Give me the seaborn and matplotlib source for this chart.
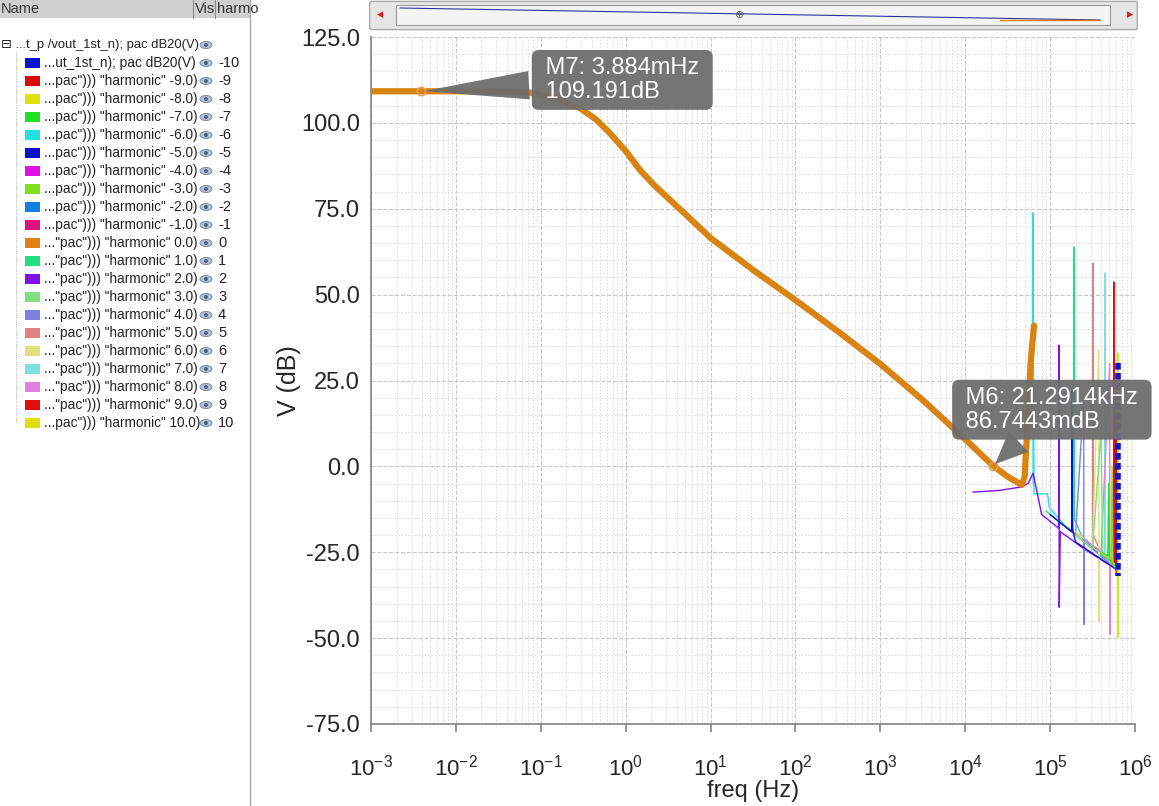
import numpy as np
import pandas as pd
import seaborn as sns
import matplotlib
matplotlib.use("Agg")
import matplotlib.pyplot as plt
from matplotlib.patches import Rectangle, FancyBboxPatch, Ellipse

sns.set_theme(style="white")
plt.rcParams['font.family'] = ['Liberation Sans', 'DejaVu Sans']
plt.rcParams['mathtext.fontset'] = 'custom'
plt.rcParams['mathtext.rm'] = 'Liberation Sans'
plt.rcParams['mathtext.it'] = 'Liberation Sans'

# ---------------- data ----------------
main_logf = [-3, -2.4, -1.8, -1.4, -1.127, -0.85, -0.538, -0.35, -0.185, 0.0, 0.168, 0.33,
             0.486, 0.7, 1.0, 1.5, 2.0, 2.5, 3.0, 3.5, 4.0, 4.33, 4.5, 4.668, 4.70, 4.74,
             4.77, 4.81]
main_db = [109.2, 109.2, 109.2, 109.1, 108.8, 107.3, 104.3, 101.0, 97.0, 91.8, 86.3, 82.0,
           78.4, 73.5, 66.5, 57.2, 48.4, 39.3, 29.8, 19.3, 7.9, 0.1, -3.0, -5.4, -3.0, 15.0,
           30.0, 41.0]

legend_ids = [-10, -9, -8, -7, -6, -5, -4, -3, -2, -1, 0, 1, 2, 3, 4, 5, 6, 7, 8, 9, 10]
legend_colors = ['#0a14d0', '#d80a0a', '#e0e010', '#20e020', '#20e0e0', '#1010c8', '#e010e0',
                 '#80e020', '#1080e0', '#e01080', '#e08010', '#20e080', '#8010f0', '#80e080',
                 '#8080e0', '#e08080', '#e0e080', '#80e0e0', '#e080e0', '#e01010', '#e0e010']
legend_names = ['...ut_1st_n); pac dB20(V)'] + \
    ['...pac"))) "harmonic" %.1f)' % h for h in range(-9, 0)] + \
    ['..."pac"))) "harmonic" %.1f)' % h for h in range(0, 10)] + \
    ['...pac"))) "harmonic" 10.0)']

# harmonic traces: id -> (log10 freq list, dB list)
harm_traces = {
    -6: ([4.80, 4.797, 4.81, 4.84, 4.97, 4.99, 5.2, 5.5, 5.78],
         [-5, 73.8, -8, -8, -8, -12, -18, -24, -30]),
    2: ([4.09, 4.4, 4.66, 4.74, 4.80, 4.90, 5.10, 5.104, 5.107, 5.12, 5.4, 5.78],
        [-7.5, -7, -6, -5, -2, -14, -18, 35.3, -41, -19, -24, -30]),
    1: ([4.95, 5.1, 5.275, 5.28, 5.283, 5.4, 5.78],
        [-13, -16, -19, 63.9, -15, -22, -29]),
    5: ([5.2, 5.4, 5.50, 5.504, 5.507, 5.6, 5.78],
        [-18, -21, -24, 59.2, -20, -25, -30]),
    7: ([5.4, 5.6, 5.642, 5.645, 5.648, 5.78],
        [-21, -25, -26, 56.3, -24, -30]),
    9: ([5.5, 5.70, 5.748, 5.751, 5.754, 5.78],
        [-23, -27, -28, 53.7, -27, -31]),
    10: ([5.6, 5.79, 5.798, 5.80, 5.802, 5.81],
         [-25, -29, 33, -49.7, -30, -32]),
    4: ([5.1, 5.3, 5.396, 5.398, 5.40, 5.5, 5.78],
        [-16, -20, 20, -46, -21, -24, -30]),
    6: ([5.3, 5.5, 5.573, 5.575, 5.577, 5.7, 5.78],
        [-19, -23, 34, -45.3, -24, -27, -30]),
    8: ([5.4, 5.6, 5.702, 5.704, 5.706, 5.78],
        [-21, -25, 30, -49, -27, -30]),
    -5: ([5.0, 5.2, 5.255, 5.257, 5.26, 5.3, 5.78],
         [-14, -18, -19, 22.2, -18, -22, -30]),
    3: ([5.3, 5.5, 5.60, 5.62, 5.78], [-20, -24, 10, -25, -30]),
    -9: ([5.76, 5.765, 5.77, 5.775, 5.78], [-28, 20, -28, 15, -29]),
    -7: ([5.6, 5.68, 5.69, 5.70, 5.78], [-25, -26, -5, -27, -30]),
    -3: ([5.6, 5.72, 5.73, 5.74, 5.78], [-25, -27, 0, -28, -30]),
}
dashed_logf = [5.80, 5.80]
dashed_db = [30, -32]

# marker annotations
m7_f, m7_db = 3.884e-3, 109.191
m6_f, m6_db = 21291.4, 0.0867

# ---------------- figure ----------------
W, H = 1159, 806
fig = plt.figure(figsize=(W / 100, H / 100), dpi=100)
fig.patch.set_facecolor('white')

def fx(px):
    return px / W

def fy(py):
    return 1 - py / H

ax = fig.add_axes([fx(371), fy(724), fx(1135) - fx(371), fy(37) - fy(724)])
ax.set_xscale('log')
ax.set_xlim(1e-3, 1e6)
ax.set_ylim(-75, 125)

color_of = dict(zip(legend_ids, legend_colors))
for hid, (lf, db) in harm_traces.items():
    df = pd.DataFrame({'f': 10 ** np.array(lf), 'db': db})
    sns.lineplot(data=df, x='f', y='db', ax=ax, color=color_of[hid], lw=1.0,
                 sort=False, estimator=None)
dfd = pd.DataFrame({'f': 10 ** np.array(dashed_logf), 'db': dashed_db})
sns.lineplot(data=dfd, x='f', y='db', ax=ax, color=color_of[-10], lw=4,
             sort=False, estimator=None, linestyle=(0, (1.2, 0.6)))

dfm = pd.DataFrame({'f': 10 ** np.array(main_logf), 'db': main_db})
sns.lineplot(data=dfm, x='f', y='db', ax=ax, color='#d98312', lw=4.5,
             sort=False, estimator=None)
ax.plot([m7_f, m6_f], [m7_db, m6_db], 'o', ms=6, mfc='none', mec='#e0a060', mew=1.2)

ax.set_yticks(np.arange(-75, 126, 25))
ax.set_yticklabels(['%.1f' % v for v in np.arange(-75, 126, 25)], fontsize=17)
ax.set_xticks([10.0 ** e for e in range(-3, 7)])
ax.set_xticklabels(['$10^{%d}$' % e for e in range(-3, 7)], fontsize=16)
ax.yaxis.set_minor_locator(matplotlib.ticker.MultipleLocator(5))
ax.xaxis.set_minor_locator(matplotlib.ticker.LogLocator(subs=np.arange(2, 10), numticks=20))
ax.grid(which='major', color='#c8c8c8', lw=0.8, ls='--')
ax.grid(which='minor', color='#d8d8d8', lw=0.6, ls=(0, (2, 2)))
ax.tick_params(axis='x', which='major', pad=16, length=6, color='#888888', direction='out', bottom=True)
ax.tick_params(axis='y', which='major', length=0, pad=8)
ax.tick_params(which='minor', length=0)
for s in ['top', 'right']:
    ax.spines[s].set_visible(False)
for s in ['left', 'bottom']:
    ax.spines[s].set_color('#888888')
ax.set_xlabel('freq (Hz)', fontsize=17, labelpad=0)
ax.set_ylabel('V (dB)', fontsize=18, labelpad=0)

box = dict(boxstyle='round,pad=0.3,rounding_size=0.3', fc='#6e6e6e', ec='none', alpha=0.95)
arr = dict(arrowstyle='wedge,tail_width=1.2,shrink_factor=0.5', fc='#6e6e6e', ec='none', alpha=0.95)
ax.annotate(' M7: 3.884mHz \n 109.191dB', xy=(m7_f, m7_db), xytext=(0.095, 112.5),
            color='white', fontsize=17, bbox=box, arrowprops=arr, va='center',
            linespacing=1.1)
ax.annotate(' M6: 21.2914kHz \n 86.7443mdB', xy=(m6_f, m6_db), xytext=(8500, 16.5),
            color='white', fontsize=17, bbox=box, arrowprops=arr, va='center',
            linespacing=1.1)

# ---------------- overview strip ----------------
fig.add_artist(FancyBboxPatch((fx(372), fy(28)), fx(1135) - fx(372), fy(3) - fy(28),
                              boxstyle='round,pad=0.002', fc='#e6e6e6', ec='#aaaaaa',
                              transform=fig.transFigure))
fig.add_artist(Rectangle((fx(396), fy(25)), fx(1110) - fx(396), fy(5) - fy(25),
                         fc='#f4f4f4', ec='#999999', lw=0.8, transform=fig.transFigure))
fig.text(fx(377), fy(15), '◂', color='#cc2222', fontsize=9, va='center')
fig.text(fx(1127), fy(15), '▸', color='#cc2222', fontsize=9, va='center')
fig.add_artist(plt.Line2D([fx(400), fx(1100)], [fy(8), fy(20)], color='#3030a0', lw=0.8,
                          transform=fig.transFigure))
fig.add_artist(plt.Line2D([fx(1000), fx(1100)], [fy(20), fy(20)], color='#e08010', lw=1,
                          transform=fig.transFigure))
fig.text(fx(740), fy(15), '⊕', color='#555555', fontsize=8, ha='center', va='center')

# ---------------- left legend panel ----------------
fig.add_artist(Rectangle((0, fy(18)), fx(250), fy(0) - fy(18), fc='#d0d0d0', ec='none',
                         transform=fig.transFigure))
fig.add_artist(plt.Line2D([fx(250), fx(250)], [0, 1], color='#aaaaaa', lw=1,
                          transform=fig.transFigure))
fig.add_artist(plt.Line2D([fx(193), fx(193)], [fy(0), fy(18)], color='#888888', lw=0.8,
                          transform=fig.transFigure))
fig.add_artist(plt.Line2D([fx(215), fx(215)], [fy(0), fy(18)], color='#888888', lw=0.8,
                          transform=fig.transFigure))
fig.text(fx(1), fy(9), 'Name', fontsize=10.5, va='center', color='#333333')
fig.text(fx(195), fy(9), 'Vis', fontsize=10.5, va='center', color='#333333')
fig.text(fx(217), fy(9), 'harmo', fontsize=10.5, va='center', color='#333333')

def eye(py):
    fig.add_artist(Ellipse((fx(206), fy(py)), fx(12), fy(0) - fy(7), fc='#b8c0d0',
                           ec='#7080a0', lw=0.6, transform=fig.transFigure))
    fig.add_artist(Ellipse((fx(206), fy(py)), fx(4), fy(0) - fy(4), fc='#506080',
                           ec='none', transform=fig.transFigure))

fig.text(fx(1), fy(45), '⊟ ...t_p /vout_1st_n); pac dB20(V)', fontsize=9.4, va='center',
         color='#222222')
eye(45)
fig.add_artist(plt.Line2D([fx(16), fx(16)], [fy(52), fy(423)], color='#999999', lw=0.6,
                          ls=':', transform=fig.transFigure))
for i, (hid, col, name) in enumerate(zip(legend_ids, legend_colors, legend_names)):
    yy = 63 + 18 * i
    fig.add_artist(Rectangle((fx(25), fy(yy + 5)), fx(15), fy(yy - 5) - fy(yy + 5),
                             fc=col, ec='none', transform=fig.transFigure))
    fig.text(fx(44), fy(yy), name, fontsize=9.8, va='center', color='#222222')
    eye(yy)
    fig.text(fx(218), fy(yy), str(hid), fontsize=10.5, va='center', color='#222222')

fig.savefig('out.png', dpi=100)
